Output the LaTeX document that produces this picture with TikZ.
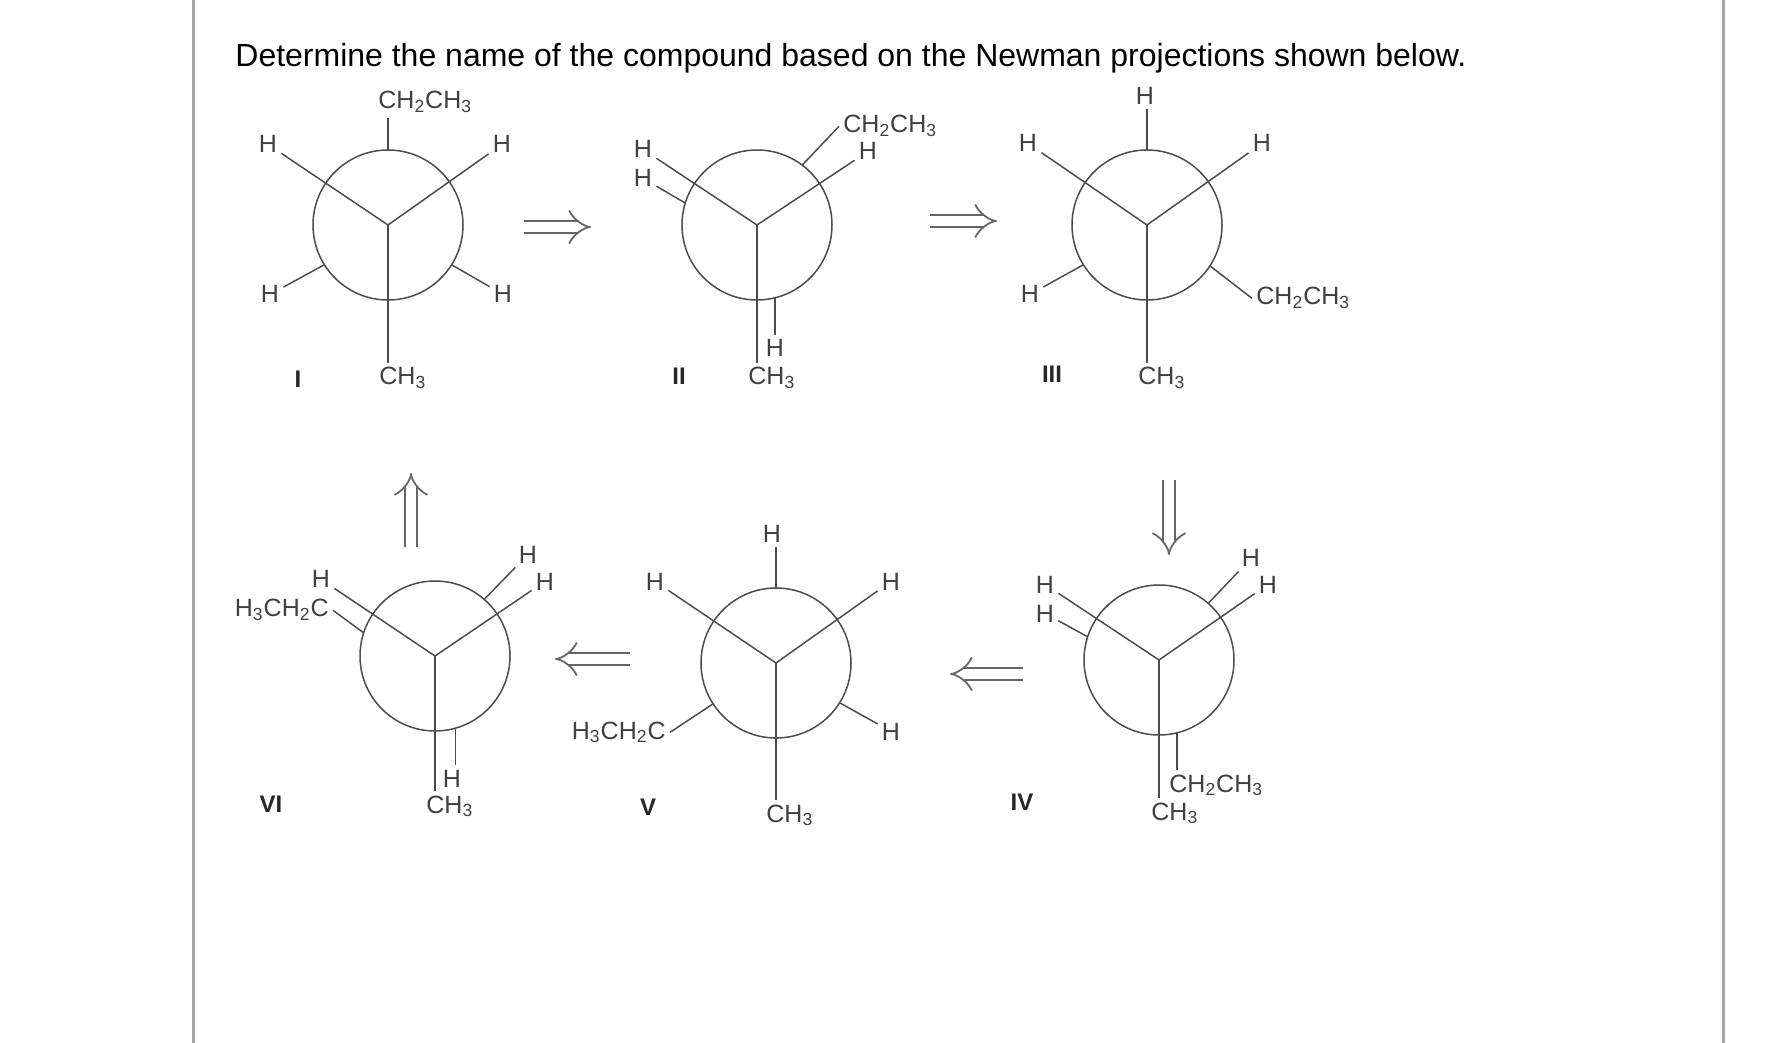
\documentclass[tikz,border=0pt]{standalone}
\usepackage{fontspec}
\setmainfont{Liberation Sans}
\usetikzlibrary{arrows.meta}

\tikzset{
  bond/.style={line width=0.75pt, draw=black!70},
  ring/.style={circle, draw=black!70, line width=0.75pt, minimum size=75pt, inner sep=0pt, outer sep=0pt},
  grp/.style={font=\fontsize{12.5}{14}\selectfont, text=black!75, inner sep=2pt},
  num/.style={font=\fontsize{12}{14}\selectfont\bfseries, text=black!85, inner sep=1pt},
  rxn/.style={draw=black!60, line width=0.9pt, double, double distance=5.2pt, -{Implies[scale=1.3]}},
  edge/.style={draw=black!35, line width=1.5pt}
}

\begin{document}
\begin{tikzpicture}[x=0.5pt, y=-0.5pt]
			%%%%% START %%%%%
			\useasboundingbox (0,0) rectangle (1769,1043);
			\draw[edge] (193,0) -- (193,1043);
			\draw[edge] (1723,0) -- (1723,1043);
			
			\node[anchor=base west, inner sep=0pt, font=\fontsize{16}{18}\selectfont] (title) at (235,67) {Determine the name of the compound based on the Newman projections shown below.};
			
			%%%%% I %%%%%
			\node[ring] (c1) at (388,225) {};
			\node[grp, anchor=base west] (e1) at (374,109) {CH\textsubscript{2}CH\textsubscript{3}};
			\node[grp, anchor=base] (h1a) at (268,153) {H};
			\node[grp, anchor=base] (h1b) at (502,153) {H};
			\node[grp, anchor=base] (h1c) at (270,303) {H};
			\node[grp, anchor=base] (h1d) at (503,303) {H};
			\node[grp, anchor=base west] (m1) at (375,385) {CH\textsubscript{3}};
			\node[num, anchor=base] (n1) at (298,388) {I};
			\draw[bond] (c1.center) -- (h1a);
			\draw[bond] (c1.center) -- (h1b);
			\draw[bond] (c1.center) -- (c1.center |- m1.north);
			\draw[bond] (c1.90) -- (c1.90 |- e1.south);
			\draw[bond] (c1.212) -- (h1c);
			\draw[bond] (c1.-32) -- (h1d);
			
			%%%%% II %%%%%
			\node[ring] (c2) at (757,225) {};
			\node[grp, anchor=base] (h2a) at (643,158) {H};
			\node[grp, anchor=base] (h2b) at (643,187) {H};
			\node[grp, anchor=base] (h2c) at (868,160) {H};
			\node[grp, anchor=base west] (e2) at (839,133) {CH\textsubscript{2}CH\textsubscript{3}};
			\node[grp, anchor=base] (h2d) at (775,357) {H};
			\node[grp, anchor=base west] (m2) at (744,385) {CH\textsubscript{3}};
			\node[num, anchor=base] (n2) at (679,385) {II};
			\draw[bond] (c2.center) -- (h2a);
			\draw[bond] (c2.163) -- (h2b);
			\draw[bond] (c2.center) -- (h2c);
			\draw[bond] (c2.53) -- (e2.west);
			\draw[bond] (c2.center) -- (c2.center |- m2.north);
			\draw[bond] (c2.284) -- (c2.284 |- h2d.north);
			
			%%%%% III %%%%%
			\node[ring] (c3) at (1147,225) {};
			\node[grp, anchor=base] (h3a) at (1145,105) {H};
			\node[grp, anchor=base] (h3b) at (1030,303) {H};
			\node[grp, anchor=base west] (e3) at (1252,305) {CH\textsubscript{2}CH\textsubscript{3}};
			\node[grp, anchor=base] (h3c) at (1028,152) {H};
			\node[grp, anchor=base] (h3d) at (1262,152) {H};
			\node[grp, anchor=base west] (m3) at (1134,385) {CH\textsubscript{3}};
			\node[num, anchor=base] (n3) at (1052,383) {III};
			\draw[bond] (c3.90) -- (c3.90 |- h3a.south);
			\draw[bond] (c3.212) -- (h3b);
			\draw[bond] (c3.-33) -- (e3.west);
			\draw[bond] (c3.center) -- (h3c);
			\draw[bond] (c3.center) -- (h3d);
			\draw[bond] (c3.center) -- (c3.center |- m3.north);
			
			%%%%% IV %%%%%
			\node[ring] (c4) at (1159,660) {};
			\node[grp, anchor=base] (h4a) at (1045,593) {H};
			\node[grp, anchor=base] (h4b) at (1045,622) {H};
			\node[grp, anchor=base] (h4c) at (1268,593) {H};
			\node[grp, anchor=base] (h4d) at (1251,567) {H};
			\node[grp, anchor=base west] (m4) at (1147,820) {CH\textsubscript{3}};
			\node[grp, anchor=base west] (e4) at (1165,792) {CH\textsubscript{2}CH\textsubscript{3}};
			\node[num, anchor=base] (n4) at (1022,810) {IV};
			\draw[bond] (c4.center) -- (h4a);
			\draw[bond] (c4.162) -- (h4b);
			\draw[bond] (c4.center) -- (h4c);
			\draw[bond] (c4.49) -- (h4d);
			\draw[bond] (c4.center) -- (c4.center |- m4.north);
			\draw[bond] (c4.284) -- (c4.284 |- e4.north);
			
			%%%%% V %%%%%
			\node[ring] (c5) at (776,663) {};
			\node[grp, anchor=base] (h5a) at (772,543) {H};
			\node[grp, anchor=base east] (e5) at (670,739) {H\textsubscript{3}CH\textsubscript{2}C};
			\node[grp, anchor=base] (h5b) at (891,740) {H};
			\node[grp, anchor=base] (h5c) at (655,590) {H};
			\node[grp, anchor=base] (h5d) at (891,590) {H};
			\node[grp, anchor=base west] (m5) at (762,822) {CH\textsubscript{3}};
			\node[num, anchor=base] (n5) at (648,815) {V};
			\draw[bond] (c5.90) -- (c5.90 |- h5a.south);
			\draw[bond] (c5.213) -- (e5.east);
			\draw[bond] (c5.-32) -- (h5b);
			\draw[bond] (c5.center) -- (h5c);
			\draw[bond] (c5.center) -- (h5d);
			\draw[bond] (c5.center) -- (c5.center |- m5.north);
			
			%%%%% VI %%%%%
			\node[ring] (c6) at (435,656) {};
			\node[grp, anchor=base] (h6a) at (321,588) {H};
			\node[grp, anchor=base east] (e6) at (333,617) {H\textsubscript{3}CH\textsubscript{2}C};
			\node[grp, anchor=base] (h6b) at (545,590) {H};
			\node[grp, anchor=base] (h6c) at (528,563) {H};
			\node[grp, anchor=base] (h6d) at (452,787) {H};
			\node[grp, anchor=base west] (m6) at (422,813) {CH\textsubscript{3}};
			\node[num, anchor=base] (n6) at (271,812) {VI};
			\draw[bond] (c6.center) -- (h6a);
			\draw[bond] (c6.162) -- (e6.east);
			\draw[bond] (c6.center) -- (h6b);
			\draw[bond] (c6.49) -- (h6c);
			\draw[bond] (c6.center) -- (c6.center |- m6.north);
			\draw[bond] (c6.286) -- (c6.286 |- h6d.north);
			
			%%%%% ARROWS %%%%%
			\coordinate (a1s) at (524,227);
			\coordinate (a1e) at (591,227);
			\coordinate (a2s) at (930,221);
			\coordinate (a2e) at (997,221);
			\coordinate (a3s) at (1169,480);
			\coordinate (a3e) at (1169,555);
			\coordinate (a4s) at (1023,674);
			\coordinate (a4e) at (950,674);
			\coordinate (a5s) at (630,659);
			\coordinate (a5e) at (555,659);
			\coordinate (a6s) at (411,547);
			\coordinate (a6e) at (411,473);
			\draw[rxn] (a1s) -- (a1e);
			\draw[rxn] (a2s) -- (a2e);
			\draw[rxn] (a3s) -- (a3e);
			\draw[rxn] (a4s) -- (a4e);
			\draw[rxn] (a5s) -- (a5e);
			\draw[rxn] (a6s) -- (a6e);
			%%%%% END %%%%%
\end{tikzpicture}
\end{document}
